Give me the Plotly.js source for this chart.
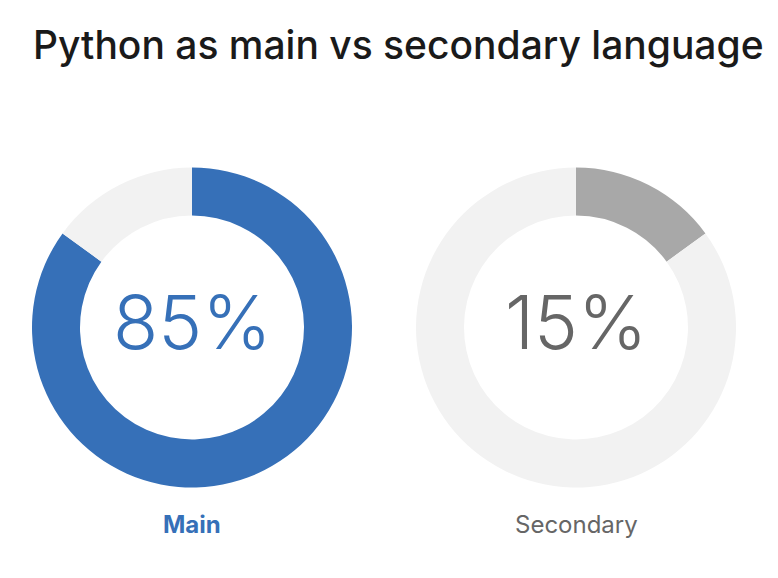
<!DOCTYPE html>
<html>
<head>
<meta charset="utf-8">
<script src="https://cdn.plot.ly/plotly-3.0.1.min.js"></script>
<style>
  html, body { margin: 0; padding: 0; background: #fff; }
  #chart { width: 778px; height: 578px; }
</style>
</head>
<body>
<div id="chart"></div>
<script>
// Python as main vs secondary language

const sliceLabels = ['Share', 'Rest'];
const mainShares = [85, 15];
const secondaryShares = [15, 85];
const groupNames = ['Main', 'Secondary'];
const centerTexts = ['85%', '15%'];

const W = 778, H = 578;

// pixel boxes for the two rings (center x, center y from top, radius)
function dom(cx, cy, r) {
    return {
        x: [(cx - r) / W, (cx + r) / W],
        y: [(H - cy - r) / H, (H - cy + r) / H]
    };
}

const data = [
    {
        type: 'pie',
        labels: sliceLabels,
        values: mainShares,
        hole: 0.7,
        sort: false,
        direction: 'clockwise',
        rotation: 0,
        textinfo: 'none',
        hoverinfo: 'none',
        marker: { colors: ['#3670B8', '#F2F2F2'], line: { width: 0 } },
        domain: dom(192, 327.5, 160)
    },
    {
        type: 'pie',
        labels: sliceLabels,
        values: secondaryShares,
        hole: 0.7,
        sort: false,
        direction: 'clockwise',
        rotation: 0,
        textinfo: 'none',
        hoverinfo: 'none',
        marker: { colors: ['#A8A8A8', '#F2F2F2'], line: { width: 0 } },
        domain: dom(576, 327.5, 160)
    }
];

function note(text, cx, cy, size, color, weight) {
    return {
        text: text, x: cx / W, y: 1 - cy / H,
        xref: 'paper', yref: 'paper', xanchor: 'center', yanchor: 'middle',
        showarrow: false,
        font: { size: size, color: color, weight: weight }
    };
}

const layout = {
    width: W,
    height: H,
    margin: { l: 0, r: 0, t: 0, b: 0 },
    showlegend: false,
    paper_bgcolor: '#fff',
    font: { family: 'Inter, "Noto Sans", sans-serif' },
    title: {
        text: 'Python as main vs secondary language',
        x: 33 / W, xanchor: 'left',
        y: 1 - 45 / H, yanchor: 'middle',
        font: { size: 39, color: '#1a1a1a', weight: 500, family: 'Inter, "Noto Sans", sans-serif' }
    },
    annotations: [
        note(centerTexts[0], 192, 322, 74, '#3670B8', 300),
        note(centerTexts[1], 576, 322, 74, '#666666', 300),
        note(groupNames[0], 192, 524, 24, '#3670B8', 700),
        note(groupNames[1], 576, 524, 24, '#666666', 400)
    ]
};

Plotly.newPlot('chart', data, layout, { displayModeBar: false, staticPlot: true });
</script>
</body>
</html>
